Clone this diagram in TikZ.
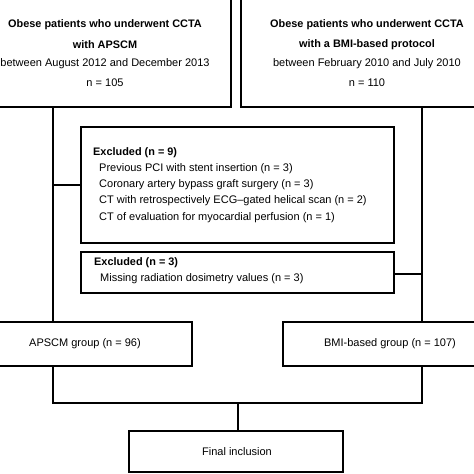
\documentclass[tikz,border=0pt]{standalone}
\usepackage{fontspec}
\setmainfont{Liberation Sans}
\begin{document}
\begin{tikzpicture}[x=1pt,y=-1pt,
  box/.style={draw=black,line width=1.8pt,inner sep=0pt},
  conn/.style={draw=black,line width=1.5pt},
  txt/.style={font=\fontsize{11}{13}\selectfont,inner sep=0pt},
  btxt/.style={font=\fontsize{10.9}{13}\selectfont\bfseries,inner sep=0pt}]
\useasboundingbox (0,0) rectangle (474,474);
\clip (0,0) rectangle (474,474);
% top boxes
\draw[box] (-20,-5) rectangle (231,107);
\node[coordinate] (tl) at (53,107) {};
\draw[box] (241,-5) rectangle (494,107);
\node[coordinate] (tr) at (422,107) {};
\node[btxt] (t1a) at (105,25) {Obese patients who underwent CCTA};
\node[btxt] (t1b) at (105,45) {with APSCM};
\node[txt] (t1c) at (105,64) {between August 2012 and December 2013};
\node[txt] (t1d) at (105,83) {n = 105};
\node[btxt] (t2a) at (367,25) {Obese patients who underwent CCTA};
\node[btxt] (t2b) at (367,45) {with a BMI-based protocol};
\node[txt] (t2c) at (367,64) {between February 2010 and July 2010};
\node[txt] (t2d) at (367,83) {n = 110};
% excluded boxes
\draw[box] (81,127) rectangle (394,243);
\draw[box] (81,252) rectangle (394,293);
\node[btxt,anchor=west] (e1) at (93,153) {Excluded (n = 9)};
\node[txt,anchor=west] (e2) at (99,169) {Previous PCI with stent insertion (n = 3)};
\node[txt,anchor=west] (e3) at (99,185) {Coronary artery bypass graft surgery (n = 3)};
\node[txt,anchor=west] (e4) at (99,201) {CT with retrospectively ECG--gated helical scan (n = 2)};
\node[txt,anchor=west] (e5) at (99,218) {CT of evaluation for myocardial perfusion (n = 1)};
\node[btxt,anchor=west] (f1) at (94,263) {Excluded (n = 3)};
\node[txt,anchor=west] (f2) at (100,279) {Missing radiation dosimetry values (n = 3)};
\node[coordinate] (x1l) at (81,185) {};
\node[coordinate] (x1m) at (53,185) {};
\node[coordinate] (x2r) at (394,274) {};
\node[coordinate] (x2m) at (422,274) {};
% group boxes
\draw[box] (-20,322) rectangle (192,366);
\draw[box] (283,322) rectangle (494,366);
\node[txt] (g1) at (85,344) {APSCM group (n = 96)};
\node[txt] (g2) at (390,344) {BMI-based group (n = 107)};
\node[coordinate] (g1t) at (53,322) {};
\node[coordinate] (g2t) at (422,322) {};
\node[coordinate] (g1b) at (53,366) {};
\node[coordinate] (g2b) at (422,366) {};
\node[coordinate] (j1) at (53,403) {};
\node[coordinate] (j2) at (422,403) {};
\node[coordinate] (jm) at (238,403) {};
% final box
\draw[box] (129,431) rectangle (343,472);
\node[txt] (fin) at (237,452) {Final inclusion};
\node[coordinate] (fint) at (238,431) {};
% connectors
\draw[conn] (tl) -- (g1t);
\draw[conn] (tr) -- (g2t);
\draw[conn] (x1m) -- (x1l);
\draw[conn] (x2r) -- (x2m);
\draw[conn] (g1b) -- (j1) -- (j2) -- (g2b);
\draw[conn] (jm) -- (fint);
\end{tikzpicture}
\end{document}
